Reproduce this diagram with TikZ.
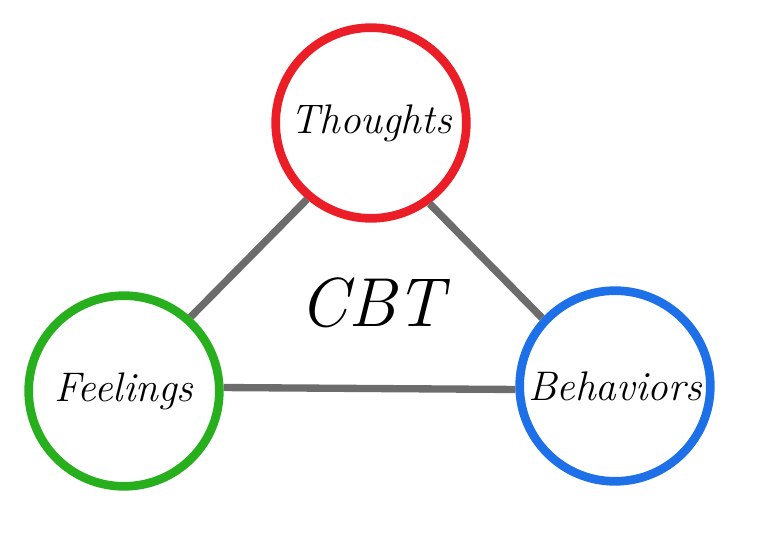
\documentclass[tikz,border=0pt]{standalone}
\usepackage{amsmath}
\usepackage{amssymb}
\usepackage{tikz}

\definecolor{thoughtred}{RGB}{235,30,40}
\definecolor{feelgreen}{RGB}{40,175,30}
\definecolor{behavblue}{RGB}{30,112,232}
\definecolor{linkgray}{RGB}{108,108,108}

\begin{document}
\begin{tikzpicture}[x=0.75pt,y=-0.75pt,
  ring/.style={circle,line width=6.5pt,minimum size=143pt,inner sep=0pt,
    font=\fontsize{31}{36}\selectfont\itshape},
  link/.style={linkgray,line width=5.5pt}]

\useasboundingbox (0,0) rectangle (768,539);

\node [ring,draw=thoughtred] (thoughts) at (371,123) {Thoughts};
\node [ring,draw=feelgreen] (feelings) at (124,391) {Feelings};
\node [ring,draw=behavblue] (behaviors) at (615,386) {Behaviors};

\node [font=\fontsize{52}{58}\selectfont\itshape] (cbt) at (372,303) {CBT};

\draw [link] (thoughts.230) -- (feelings.48);
\draw [link] (thoughts.306) -- (behaviors.137);
\draw [link] (feelings.2) -- (behaviors.182);

\end{tikzpicture}
\end{document}
